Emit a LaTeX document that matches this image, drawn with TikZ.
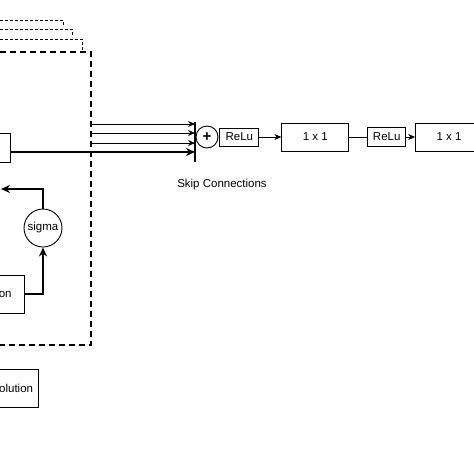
\documentclass[tikz,border=0pt]{standalone}
\usepackage{fontspec}
\setmainfont{Liberation Sans}
\usetikzlibrary{positioning, arrows.meta}

\begin{document}
\begin{tikzpicture} [x = 1pt, y = -1pt, line width = 0.9pt,
  font = \fontsize{11.5}{13}\selectfont,
  block/.style = {draw, rectangle, inner sep = 0pt},
  arr/.style = {-{Stealth[length = 7pt, width = 6pt]}},
  bigarr/.style = {line width = 1.8pt, -{Stealth[length = 9pt, width = 8pt]}}]

\useasboundingbox (0,0) rectangle (474,474);
\clip (0,0) rectangle (474,474);

\draw [dash pattern = on 3pt off 2pt] (-60,20) -- (63,20) -- (63,27);
\draw [dash pattern = on 3pt off 2pt] (-60,29) -- (72,29) -- (72,37);
\draw [dash pattern = on 3pt off 2pt] (-60,39) -- (82,39) -- (82,52);
\draw [line width = 2pt, dash pattern = on 6pt off 4pt] (-60,52) -- (91,52) -- (91,345) -- (-60,345);

\node [block, anchor = east, minimum width = 60pt, minimum height = 29pt] (feat) at (11,147.5) {};
\node [block, anchor = east, minimum height = 38pt, text width = 70pt, align = right, inner xsep = 13pt] (dconv) at (25,294) {on};
\node [draw, circle, minimum size = 38pt, inner sep = 0pt] (sigma) at (43,228) {sigma};
\node [block, anchor = east, minimum height = 38pt, text width = 60pt, align = right, inner xsep = 5.5pt] (conv) at (39,388) {olution};

\coordinate (gate) at (1,189);
\draw [bigarr] (dconv.east) -| (sigma.south);
\draw [bigarr] (sigma.north) |- (gate);

\coordinate (bartop) at (195,122);
\coordinate (barbot) at (195,162);
\draw [line width = 1.5pt] (bartop) -- (barbot);

\coordinate (s1) at (91,124);
\coordinate (s2) at (91,133);
\coordinate (s3) at (91,143);
\draw [arr] (s1) -- (s1 -| bartop);
\draw [arr] (s2) -- (s2 -| bartop);
\draw [arr] (s3) -- (s3 -| bartop);
\coordinate (s4) at (195,152);
\draw [bigarr] (feat.east |- s4) -- (s4);

\node [draw, circle, minimum size = 22pt, inner sep = 0pt, font = \fontsize{15}{15}\selectfont\bfseries] (plus) at (207,137) {+};
\node [block, minimum width = 39pt, minimum height = 18pt] (relu1) [right = 1pt of plus] {ReLu};
\node [block, minimum width = 67pt, minimum height = 28pt] (conv1) [right = 22pt of relu1] {1 x 1};
\node [block, minimum width = 38pt, minimum height = 19pt] (relu2) [right = 18pt of conv1] {ReLu};
\node [block, minimum width = 67pt, minimum height = 28pt] (conv2) [right = 9pt of relu2] {1 x 1};

\draw [arr] (relu1) -- (conv1);
\draw (conv1) -- (relu2);
\draw [arr] (relu2) -- (conv2);

\node (skip) at (222,185) {Skip Connections};

\end{tikzpicture}
\end{document}
